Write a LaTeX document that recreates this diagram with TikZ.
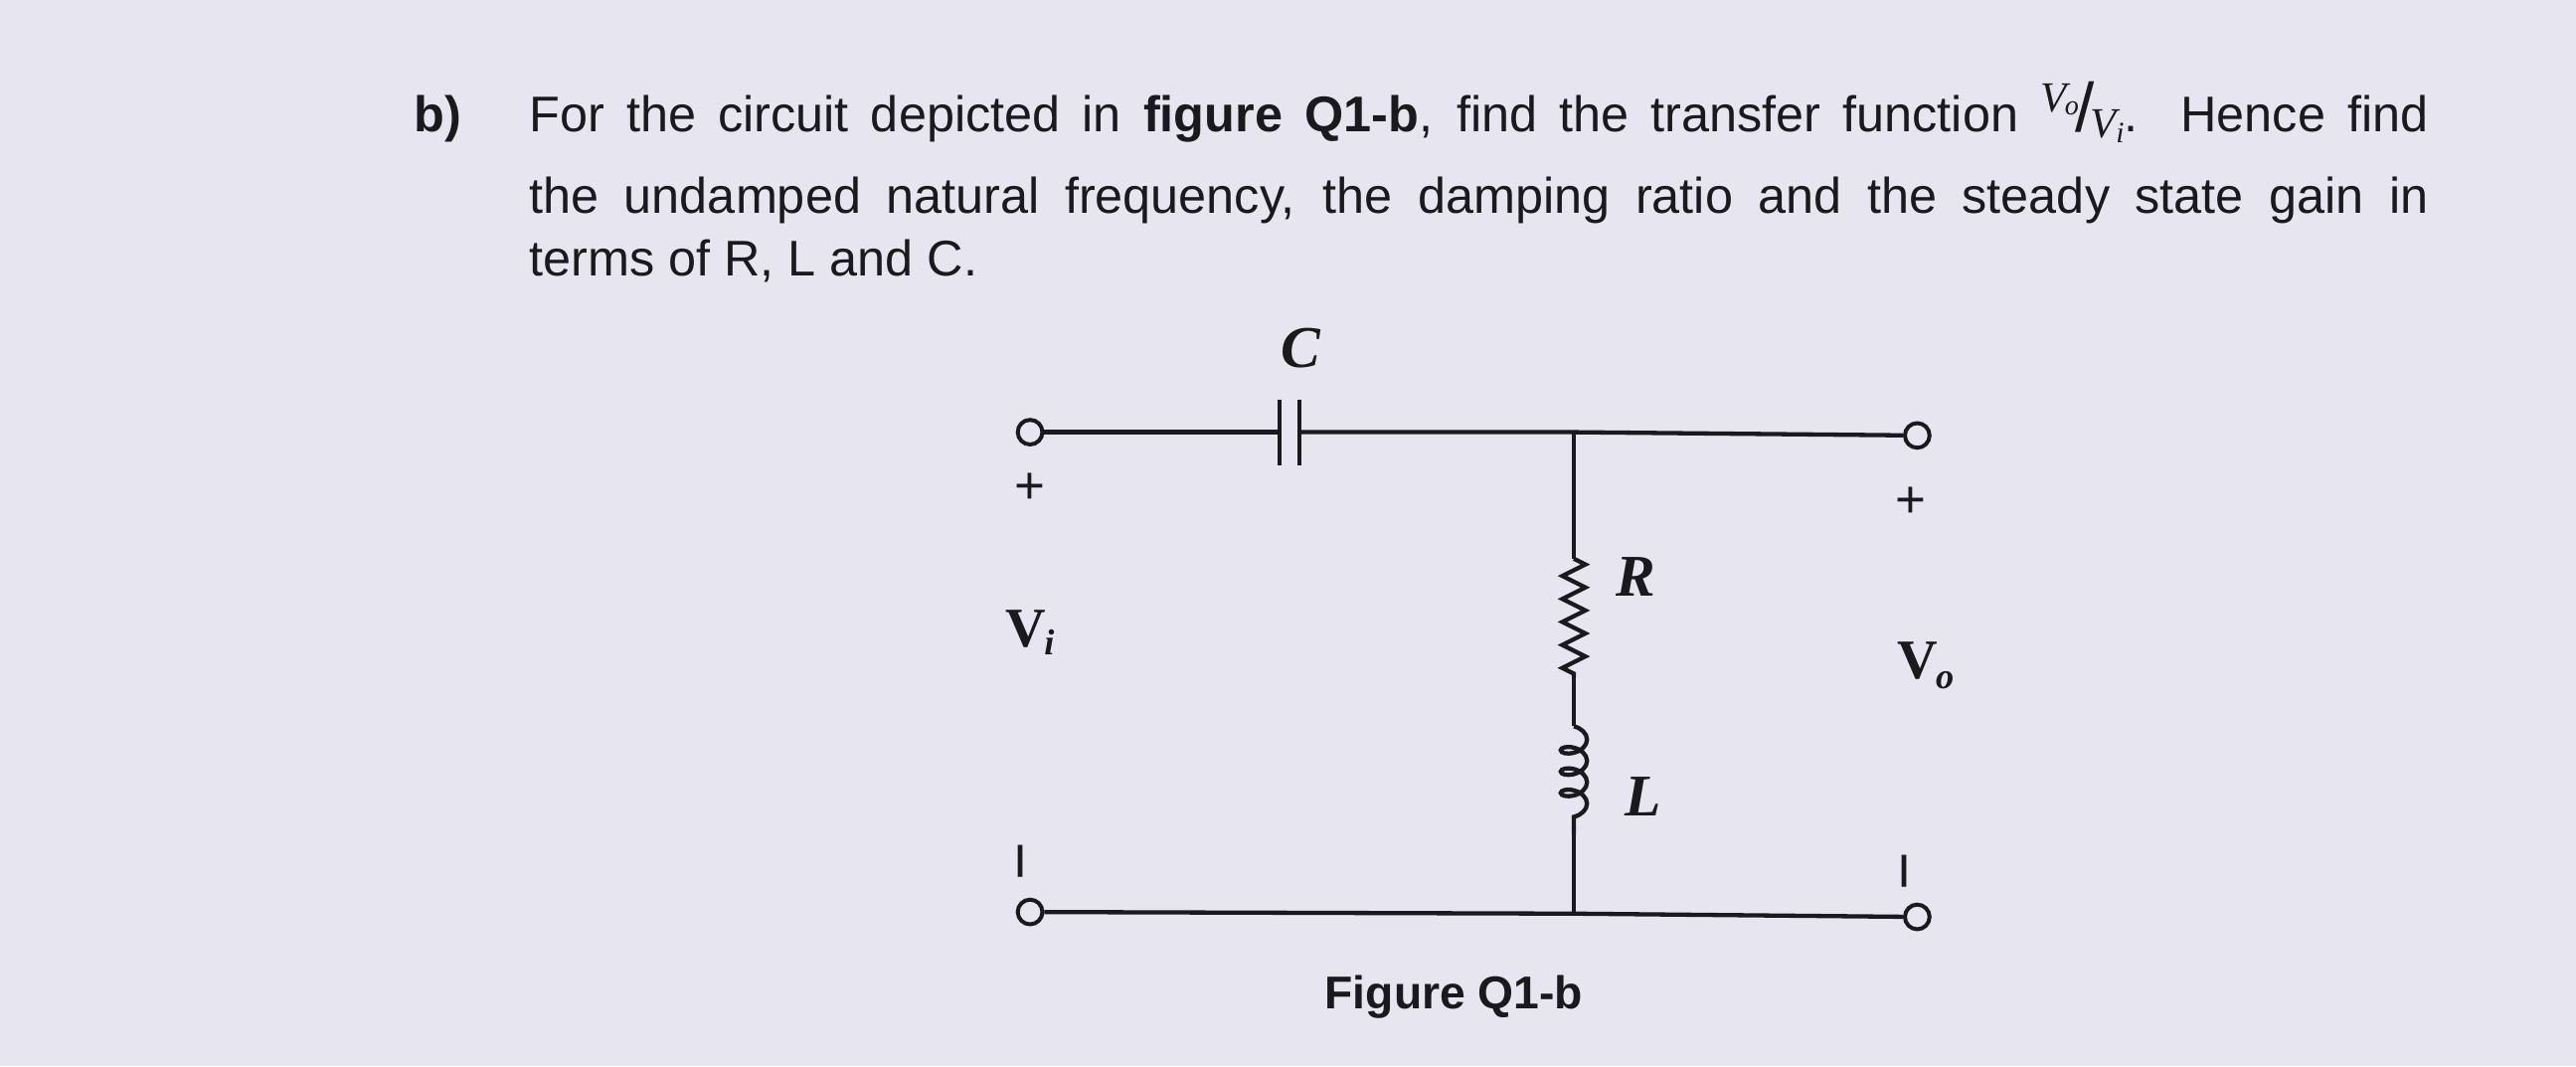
\documentclass[tikz,border=0pt]{standalone}
\usepackage{fontspec}
\setmainfont{Liberation Sans}
\newfontfamily\serifit{Liberation Serif}
\usetikzlibrary{decorations.pathmorphing}
\definecolor{bg}{HTML}{E6E5F0}
\definecolor{ink}{HTML}{1A1A1E}
\tikzset{
  txt/.style={font=\fontsize{30.5}{40}\selectfont, text=ink, inner sep=0pt},
  lab/.style={font=\fontsize{36}{40}\selectfont\serifit\itshape\bfseries, text=ink, inner sep=0pt},
  sgn/.style={font=\fontsize{32}{32}\selectfont, text=ink, inner sep=0pt},
  wire/.style={line width=2.6pt, draw=ink},
  term/.style={circle, draw=ink, line width=2.4pt, fill=bg, minimum size=15pt, inner sep=0pt},
}
\begin{document}
\begin{tikzpicture}[x=1pt,y=-1pt]
\fill[bg] (0,0) rectangle (1568,649);
\useasboundingbox (0,0) rectangle (1568,649);
\node[txt, font=\fontsize{30.5}{40}\selectfont\bfseries, anchor=base west] (b) at (252,80) {b)};
\node[txt, anchor=base west] (l1) at (322,80) {\makebox[1156pt][s]{For the circuit depicted in \textbf{figure Q1-b}, find the transfer function \raisebox{12pt}{\serifit\itshape\fontsize{26}{26}\selectfont V\kern-1pt\raisebox{-2pt}{\fontsize{17}{17}\selectfont o}}\kern-2pt{\fontsize{42}{42}\selectfont /}\kern-3pt\raisebox{-4pt}{\serifit\itshape\fontsize{26}{26}\selectfont V\raisebox{-3pt}{\fontsize{18}{18}\selectfont i}}. Hence find}};
\node[txt, anchor=base west] (l2) at (322,130) {\makebox[1156pt][s]{the undamped natural frequency, the damping ratio and the steady state gain in}};
\node[txt, anchor=base west] (l3) at (322,168) {terms of R, L and C.};
% circuit
\node[term] (t1) at (627,263) {};
\node[term] (t2) at (1167,265) {};
\node[term] (t3) at (627,555) {};
\node[term] (t4) at (1167,558) {};
\coordinate (c1) at (779,263);
\coordinate (c2) at (791,263);
\coordinate (j1) at (958,263);
\coordinate (j2) at (958,556);
\coordinate (r1) at (958,340);
\coordinate (r2) at (958,412);
\coordinate (i1) at (958,442);
\coordinate (i2) at (958,508);
\draw[wire] (t1) -- (c1);
\draw[wire] (779,243) -- (779,283);
\draw[wire] (791,243) -- (791,283);
\draw[wire] (c2) -- (j1) -- (t2);
\draw[wire] (j1) -- (r1);
\draw[wire, decorate, decoration={zigzag, segment length=14pt, amplitude=7pt}] (r1) -- (r2);
\draw[wire] (r2) -- (i1);
\draw[wire, decorate, decoration={coil, aspect=0.6, segment length=13pt, amplitude=8pt}] (i1) -- (i2);
\draw[wire] (i2) -- (j2);
\draw[wire] (t3) -- (j2) -- (t4);
\node[lab] (lc) at (792,212) {C};
\node[lab] (lr) at (996,351) {R};
\node[lab] (ll) at (1000,485) {L};
\node[sgn] (p1) at (627,297) {+};
\node[sgn] (p2) at (1163,306) {+};
\node[sgn, rotate=90, font=\fontsize{40}{40}\selectfont] (m1) at (627,524) {\textminus};
\node[sgn, rotate=90, font=\fontsize{40}{40}\selectfont] (m2) at (1165,530) {\textminus};
\node[lab, font=\fontsize{34}{40}\selectfont\serifit\bfseries] (vi) at (627,385) {V\kern-1pt\raisebox{-5pt}{\fontsize{22}{22}\selectfont\itshape i}};
\node[lab, font=\fontsize{34}{40}\selectfont\serifit\bfseries] (vo) at (1172,405) {V\kern-1pt\raisebox{-6pt}{\fontsize{22}{22}\selectfont\itshape o}};
\node[txt, font=\fontsize{28}{30}\selectfont\bfseries] (fig) at (885,607) {Figure Q1-b};
\end{tikzpicture}
\end{document}
